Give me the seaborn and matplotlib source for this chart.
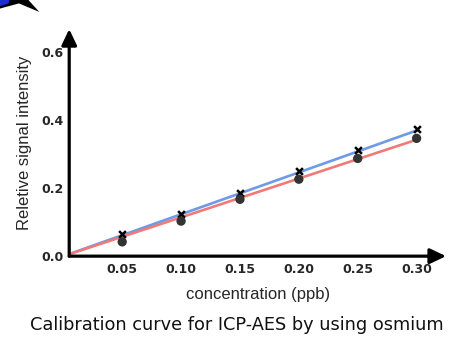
import matplotlib
matplotlib.use("Agg")
import matplotlib.pyplot as plt
from matplotlib.patches import Polygon
import seaborn as sns
import pandas as pd

# data
conc = [0.05, 0.10, 0.15, 0.20, 0.25, 0.30]
cross_vals = [0.064, 0.123, 0.186, 0.249, 0.312, 0.374]
circle_vals = [0.042, 0.103, 0.167, 0.226, 0.287, 0.346]
fit_x = [0.0, 0.30]
blue_fit = [0.0, 0.369]
red_fit = [0.0, 0.342]
xticks = [0.05, 0.10, 0.15, 0.20, 0.25, 0.30]
xtick_labels = ["0.05", "0.10", "0.15", "0.20", "0.25", "0.30"]
yticks = [0.0, 0.2, 0.4, 0.6]
ytick_labels = ["0.0", "0.2", "0.4", "0.6"]

sns.set_theme(style="white")
plt.rcParams['font.family'] = ['DejaVu Sans']

fig = plt.figure(figsize=(4.74, 3.42), dpi=100)
ax = fig.add_axes([0.146, 0.251, 0.795, 0.664])

fit_df = pd.DataFrame({"x": fit_x + fit_x,
                       "y": blue_fit + red_fit,
                       "s": ["blue"] * 2 + ["red"] * 2})
sns.lineplot(data=fit_df[fit_df.s == "blue"], x="x", y="y", color="#6e9ae6", lw=1.9, ax=ax)
sns.lineplot(data=fit_df[fit_df.s == "red"], x="x", y="y", color="#f07a78", lw=1.9, ax=ax)
sns.scatterplot(x=conc, y=cross_vals, marker="x", color="black", s=24, linewidth=1.8, ax=ax, zorder=5)
sns.scatterplot(x=conc, y=circle_vals, marker="o", color="#333333", s=45, edgecolor="none", ax=ax, zorder=5)

ax.set_xlim(0.005, 0.325)
ax.set_ylim(0.0, 0.667)
for s in ax.spines.values():
    s.set_visible(False)
ax.set_xticks(xticks)
ax.set_xticklabels(xtick_labels, fontsize=9, fontweight="bold")
ax.set_yticks(yticks)
ax.set_yticklabels(ytick_labels, fontsize=9, fontweight="bold")
ax.tick_params(axis="both", length=0)
ax.tick_params(axis="y", pad=4)
ax.tick_params(axis="x", pad=5)
ax.grid(False)

# axis arrows
style = "-|>,head_length=0.8,head_width=0.38"
ax.annotate("", xy=(1.0, 0), xytext=(0, 0), xycoords="axes fraction",
            arrowprops=dict(arrowstyle=style, color="black", lw=2.3,
                            shrinkA=0, shrinkB=0), annotation_clip=False)
ax.annotate("", xy=(0, 1.0), xytext=(0, 0), xycoords="axes fraction",
            arrowprops=dict(arrowstyle=style, color="black", lw=2.3,
                            shrinkA=0, shrinkB=0), annotation_clip=False)

ax.set_xlabel("concentration (ppb)", fontsize=12, family="Liberation Sans", labelpad=8)
ax.set_ylabel("Reletive signal intensity", fontsize=12, family="Liberation Sans", labelpad=7)

fig.text(0.5, 0.05, "Calibration curve for ICP-AES by using osmium", ha="center", va="center",
         fontsize=12.8, color="#111111")

# top-left corner fragment
fig.patches.append(Polygon([(0.0, 1.0), (0.0, 0.975), (0.04, 0.99), (0.083, 0.965), (0.06, 1.0)],
                           closed=True, transform=fig.transFigure, facecolor="black", edgecolor="none"))
fig.patches.append(Polygon([(0.0, 1.0), (0.0, 0.982), (0.018, 0.99), (0.02, 1.0)],
                           closed=True, transform=fig.transFigure, facecolor="#1a2fd0", edgecolor="none"))

fig.savefig("out.png", dpi=100)
